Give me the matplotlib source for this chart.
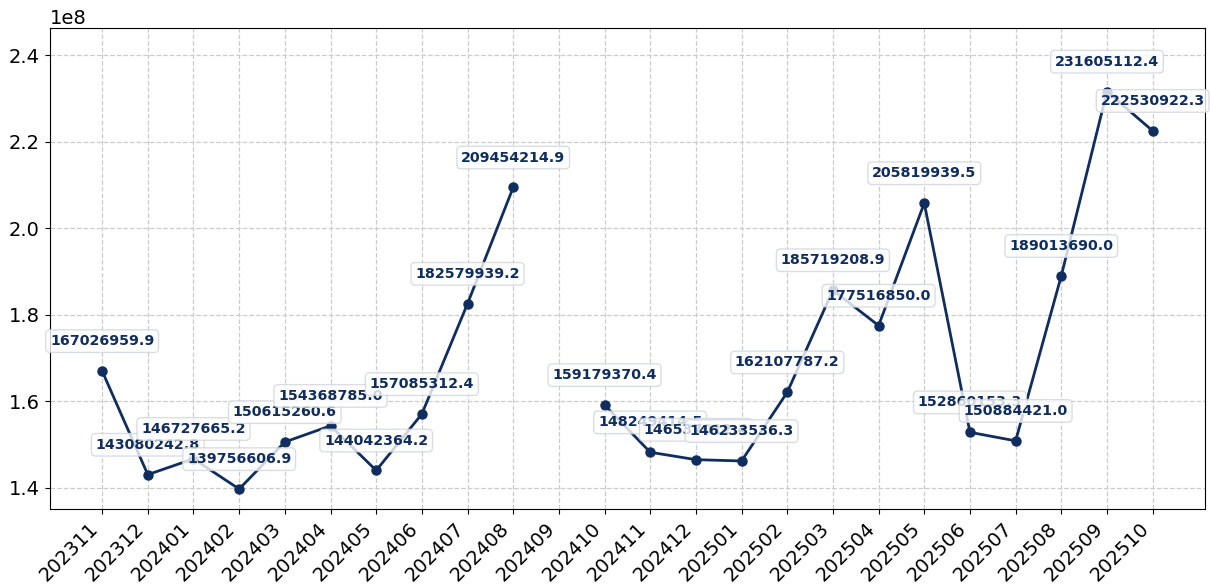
import matplotlib.pyplot as plt
import numpy as np

months = ['202311', '202312', '202401', '202402', '202403', '202404', '202405',
          '202406', '202407', '202408', '202409', '202410', '202411', '202412',
          '202501', '202502', '202503', '202504', '202505', '202506', '202507',
          '202508', '202509', '202510']
values = [167026959.9, 143080242.8, 146727665.2, 139756606.9, 150615260.6,
          154368785.0, 144042364.2, 157085312.4, 182579939.2, 209454214.9,
          np.nan, 159179370.4, 148249414.5, 146537012.4, 146233536.3,
          162107787.2, 185719208.9, 177516850.0, 205819939.5, 152860153.3,
          150884421.0, 189013690.0, 231605112.4, 222530922.3]

color = '#0f2d5f'

fig = plt.figure(figsize=(12.1, 5.87), dpi=100)
ax = fig.add_subplot(111)
fig.subplots_adjust(left=0.041, right=0.996, top=0.952, bottom=0.133)

x = np.arange(len(months))
ax.plot(x, values, color=color, linewidth=2, marker='o', markersize=6.5)

for xi, v in zip(x, values):
    if np.isnan(v):
        continue
    ax.annotate('%.1f' % v, (xi, v), xytext=(0, 21.5), textcoords='offset points',
                ha='center', va='center', fontsize=10.3, fontweight='bold', color=color,
                bbox=dict(boxstyle='round,pad=0.3', facecolor='white', edgecolor='#d0d5dd',
                          alpha=0.8))

ax.set_xticks(x)
ax.set_xticklabels(months, rotation=45, ha='right', fontsize=14)
ax.tick_params(axis='y', labelsize=14)
ax.yaxis.get_offset_text().set_fontsize(14)
ax.set_ylim(1.3515e8, 2.4625e8)
ax.grid(True, linestyle='--', color='#cccccc', linewidth=0.9)

plt.savefig('out.png', dpi=100)
